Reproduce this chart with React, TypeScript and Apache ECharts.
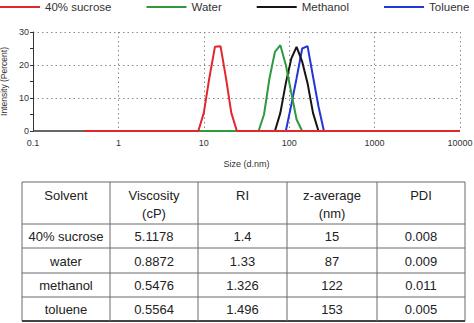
import React, { useEffect, useRef } from "react";
import * as echarts from "echarts";

// ---- chart data ----
const seriesNames = ["40% sucrose", "Water", "Methanol", "Toluene"];
const seriesColors = ["#e3262b", "#2e9a3e", "#151515", "#2336d6"];

const sucroseSize = [0.4, 8.63, 10, 11.6, 13.5, 15.7, 18.2, 21, 24.4, 10000];
const sucroseIntensity = [0, 0, 5.5, 16, 25.5, 25.7, 16, 5.5, 0, 0];

const waterSize = [0.4, 43.8, 50.7, 58.8, 68.1, 78.8, 91.3, 106, 122, 142, 10000];
const waterIntensity = [0, 0, 5, 16, 24, 26, 20, 11.5, 3.5, 0, 0];

const methanolSize = [0.4, 68.1, 78.8, 91.3, 106, 122, 142, 164, 190, 220, 10000];
const methanolIntensity = [0, 0, 5.5, 14.5, 22, 25.5, 21, 14.5, 5.5, 0, 0];

const tolueneSize = [0.4, 91.3, 106, 122, 142, 164, 190, 220, 255, 10000];
const tolueneIntensity = [0, 0, 8, 16, 25, 25.7, 16.5, 7.5, 0, 0];

const xTickLabels = ["0.1", "1", "10", "100", "1000", "10000"];
const yTicks = [0, 10, 20, 30];

// ---- table data ----
const tableHeaderLine1 = ["Solvent", "Viscosity", "RI", "z-average", "PDI"];
const tableHeaderLine2 = ["", "(cP)", "", "(nm)", ""];
const tableSolvents = ["40% sucrose", "water", "methanol", "toluene"];
const tableViscosity = ["5.1178", "0.8872", "0.5476", "0.5564"];
const tableRI = ["1.4", "1.33", "1.326", "1.496"];
const tableZAverage = ["15", "87", "122", "153"];
const tablePDI = ["0.008", "0.009", "0.011", "0.005"];

function pairs(xs: number[], ys: number[]) {
  return xs.map((x, i) => [x, ys[i]]);
}

export default function App() {
  const ref = useRef<HTMLDivElement>(null);

  useEffect(() => {
    if (!ref.current) return;
    const chart = echarts.init(ref.current, null, { renderer: "svg" });

    const seriesData = [
      pairs(sucroseSize, sucroseIntensity),
      pairs(waterSize, waterIntensity),
      pairs(methanolSize, methanolIntensity),
      pairs(tolueneSize, tolueneIntensity),
    ];

    // draw order: toluene first, sucrose (red) last on top
    const order = [3, 2, 1, 0];
    const series = order.map((i) => ({
      name: seriesNames[i],
      type: "line",
      data: seriesData[i],
      showSymbol: false,
      symbol: "none",
      clip: false,
      z: 10,
      lineStyle: { color: seriesColors[i], width: 2 },
      itemStyle: { color: seriesColors[i] },
    }));

    // plot-area layout (baseline on a whole pixel so the 2px lines don't blend)
    const gLeft = 33;
    const gRight = 14;
    const gTop = 32;
    const gBottom = 192;
    const W = 474;
    const H = 323;

    // table layout
    const colX = [22, 110, 198, 287, 377, 465];
    const rowY = [182, 224, 248, 273, 297, 321];
    const lineColor = "#6a6a6a";
    const tFont = { fontSize: 13, fontFamily: "Liberation Sans, Arial, sans-serif", fill: "#222" };
    const graphic: any[] = [];
    // x axis baseline, drawn behind the series
    graphic.push({
      type: "line",
      z: 1,
      shape: { x1: gLeft, y1: H - gBottom, x2: W - gRight, y2: H - gBottom },
      style: { stroke: "#333", lineWidth: 1.5 },
    });
    graphic.push({
      type: "rect",
      shape: { x: colX[0], y: rowY[0], width: colX[5] - colX[0], height: rowY[5] - rowY[0] },
      style: { fill: "#fff", stroke: lineColor, lineWidth: 1 },
    });
    for (let r = 1; r < rowY.length - 1; r++) {
      graphic.push({
        type: "line",
        shape: { x1: colX[0], y1: rowY[r], x2: colX[5], y2: rowY[r] },
        style: { stroke: lineColor, lineWidth: 1 },
      });
    }
    graphic.push({
      type: "line",
      shape: { x1: colX[0], y1: rowY[5], x2: colX[5], y2: rowY[5] },
      style: { stroke: "#444", lineWidth: 2 },
    });
    for (let c = 1; c < colX.length - 1; c++) {
      graphic.push({
        type: "line",
        shape: { x1: colX[c], y1: rowY[0], x2: colX[c], y2: rowY[5] },
        style: { stroke: lineColor, lineWidth: 1 },
      });
    }
    const colCenter = (c: number) => (colX[c] + colX[c + 1]) / 2;
    tableHeaderLine1.forEach((t, c) => {
      graphic.push({
        type: "text",
        x: colCenter(c),
        y: 195,
        style: { text: t, align: "center", verticalAlign: "middle", ...tFont },
      });
      if (tableHeaderLine2[c]) {
        graphic.push({
          type: "text",
          x: colCenter(c),
          y: 213,
          style: { text: tableHeaderLine2[c], align: "center", verticalAlign: "middle", ...tFont },
        });
      }
    });
    const columns = [tableSolvents, tableViscosity, tableRI, tableZAverage, tablePDI];
    columns.forEach((col, c) => {
      col.forEach((t, r) => {
        graphic.push({
          type: "text",
          x: colCenter(c),
          y: (rowY[r + 1] + rowY[r + 2]) / 2 + 0.5,
          style: { text: t, align: "center", verticalAlign: "middle", ...tFont },
        });
      });
    });

    const gridDash = [1.5, 3];

    chart.setOption({
      animation: false,
      backgroundColor: "#ffffff",
      textStyle: { fontFamily: "Liberation Sans, Arial, sans-serif" },
      legend: {
        data: seriesNames,
        left: 0,
        top: 1,
        width: 800,
        itemWidth: 40,
        itemHeight: 2,
        itemGap: 35,
        icon: "rect",
        padding: 0,
        textStyle: { fontSize: 11.5, color: "#333" },
      },
      grid: {
        left: gLeft,
        right: gRight,
        top: gTop,
        bottom: gBottom,
        containLabel: false,
        outerBoundsMode: "none",
      },
      xAxis: {
        type: "log",
        logBase: 10,
        min: 0.1,
        max: 10000,
        name: "Size (d.nm)",
        nameLocation: "middle",
        nameGap: 28,
        nameTextStyle: { fontSize: 9, color: "#333" },
        axisLine: { show: false },
        axisTick: { show: false },
        axisLabel: {
          fontSize: 9,
          color: "#333",
          margin: 7,
          formatter: (v: number) => {
            const idx = Math.round(Math.log10(v)) + 1;
            return xTickLabels[idx] ?? String(v);
          },
        },
        splitLine: {
          show: true,
          showMinLine: false,
          lineStyle: { color: "#8a8a8a", type: gridDash, width: 1 },
        },
      },
      yAxis: {
        type: "value",
        min: 0,
        max: 30,
        interval: 10,
        name: "Intensity (Percent)",
        nameLocation: "middle",
        nameGap: 24,
        nameTextStyle: { fontSize: 8.5, color: "#333" },
        axisLine: { show: true, lineStyle: { color: "#333", width: 1 } },
        axisTick: { show: true, length: 3, lineStyle: { color: "#333" } },
        minorTick: { show: true, splitNumber: 2, length: 3, lineStyle: { color: "#333" } },
        axisLabel: {
          fontSize: 9,
          color: "#333",
          margin: 4,
          formatter: (v: number) => (yTicks.includes(v) ? String(v) : ""),
        },
        splitLine: {
          show: true,
          showMinLine: false,
          lineStyle: { color: "#8a8a8a", type: gridDash, width: 1 },
        },
      },
      series,
      graphic,
    });

    return () => chart.dispose();
  }, []);

  return (
    <div
      ref={ref}
      style={{ position: "absolute", left: 0, top: 0, width: 474, height: 323, background: "#fff" }}
    />
  );
}
